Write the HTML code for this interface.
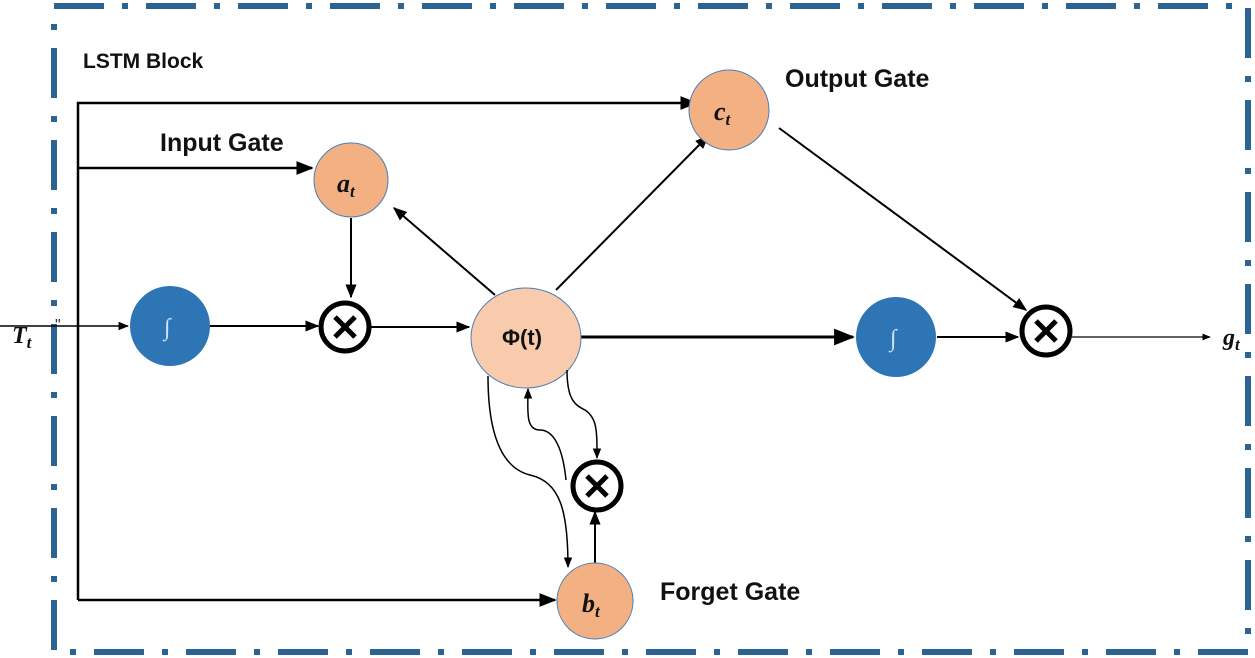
<!DOCTYPE html>
<html><head><style>body{margin:0;background:#fff}svg{display:block}</style></head><body>
<svg width="1255" height="658" viewBox="0 0 1255 658" xmlns="http://www.w3.org/2000/svg">
<defs>
<marker id="a" viewBox="0 0 10 10" refX="9" refY="5" markerWidth="7" markerHeight="7" orient="auto-start-reverse"><path d="M0,1 L10,5 L0,9 z" fill="#000"/></marker>
</defs>
<rect x="54" y="6" width="1194" height="646" fill="none" stroke="#2c6395" stroke-width="6" stroke-dasharray="50,18,6,18"/>
<g font-family="Liberation Sans, sans-serif" font-weight="bold" fill="#111">
<text x="83" y="68" font-size="21">LSTM Block</text>
<text x="160" y="151" font-size="25">Input Gate</text>
<text x="785" y="87" font-size="25">Output Gate</text>
<text x="660" y="600" font-size="25">Forget Gate</text>
</g>
<g stroke="#000" stroke-width="2.5" fill="none">
<path d="M78 600 V103 H696" marker-end="url(#a)"/>
<path d="M78 168 H312" marker-end="url(#a)"/>
<path d="M78 600 H555" marker-end="url(#a)"/>
<path d="M0 326 H128" stroke-width="1.5" marker-end="url(#a)"/>
<path d="M210 326 H318" stroke-width="2" marker-end="url(#a)"/>
<path d="M351 218 V297" stroke-width="2" marker-end="url(#a)"/>
<path d="M371 327 H469" stroke-width="2" marker-end="url(#a)"/>
<path d="M495 295 L394 208" stroke-width="2" marker-end="url(#a)"/>
<path d="M556 290 L708 136" stroke-width="2" marker-end="url(#a)"/>
<path d="M581 337 H853" stroke-width="3" marker-end="url(#a)"/>
<path d="M937 337 H1018" stroke-width="2" marker-end="url(#a)"/>
<path d="M779 128 L1026 310" stroke-width="2" marker-end="url(#a)"/>
<path d="M1072 337 H1210" stroke-width="1.2" marker-end="url(#a)"/>
<path d="M595 563 V512" stroke-width="2" marker-end="url(#a)"/>
</g>
<g stroke="#4a7fb5" stroke-width="1">
<circle cx="351" cy="180" r="37" fill="#f3b183"/>
<circle cx="729" cy="110" r="40" fill="#f3b183"/>
<circle cx="595" cy="601" r="38" fill="#f3b183"/>
<ellipse cx="526" cy="338" rx="55" ry="50" fill="#f8cbad"/>
<circle cx="170" cy="326" r="40" fill="#2e75b6" stroke="none"/>
<circle cx="896" cy="337" r="40" fill="#2e75b6" stroke="none"/>
</g>
<g stroke="#000" fill="none" stroke-width="1.5">
<path d="M488 376 C488 450 510 470 530 475 C560 482 568 510 568 567" marker-end="url(#a)"/>
<path d="M566 480 C562 440 550 430 540 430 C525 430 528 410 528 389" marker-end="url(#a)"/>
<path d="M567 370 C567 400 575 405 585 410 C597 418 597 430 597 458" marker-end="url(#a)"/>
</g>
<g stroke="#000" stroke-width="5" fill="#fff">
<circle cx="345" cy="327" r="24"/>
<circle cx="1046" cy="331" r="24"/>
<circle cx="597" cy="486" r="24"/>
</g>
<g stroke="#000" stroke-width="5">
<path d="M335 317 L355 337 M355 317 L335 337"/>
<path d="M1036 321 L1056 341 M1056 321 L1036 341"/>
<path d="M587 476 L607 496 M607 476 L587 496"/>
</g>
<g font-family="Liberation Serif, serif" font-weight="bold" font-style="italic" fill="#111">
<text x="337" y="192" font-size="26">a<tspan font-size="17" dy="5">t</tspan></text>
<text x="714" y="120" font-size="26">c<tspan font-size="17" dy="5">t</tspan></text>
<text x="582" y="612" font-size="26">b<tspan font-size="17" dy="5">t</tspan></text>
<text x="12" y="343" font-size="24">T<tspan font-size="17" dy="5">t</tspan></text>
<text x="1223" y="345" font-size="24">g<tspan font-size="17" dy="5">t</tspan></text>
</g>
<text x="55" y="330" font-size="16" fill="#333" font-family="Liberation Sans, sans-serif">"</text>
<text x="502" y="345" font-size="22" font-weight="bold" font-family="Liberation Sans, sans-serif" fill="#111">Φ(t)</text>
<text x="164" y="335" font-size="24" fill="#cfe0f2" font-family="Liberation Serif, serif">∫</text>
<text x="890" y="346" font-size="24" fill="#cfe0f2" font-family="Liberation Serif, serif">∫</text>
</svg>
</body></html>
